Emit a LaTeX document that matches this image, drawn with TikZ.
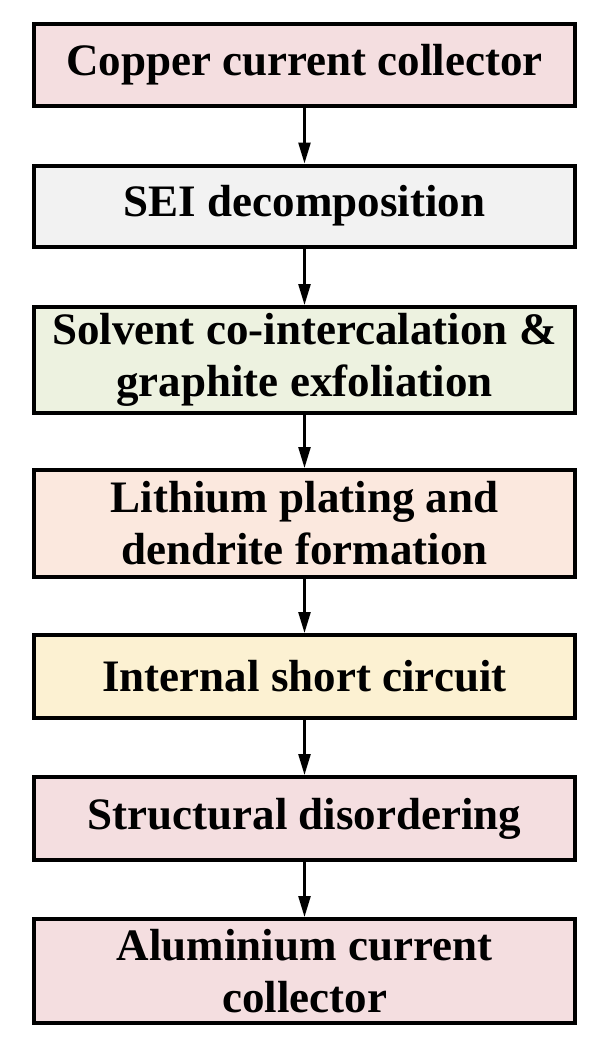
\documentclass[tikz,border=0pt]{standalone}
\usepackage{fontspec}
\setmainfont{Liberation Serif}
\usetikzlibrary{arrows.meta}
\definecolor{cpink}{HTML}{F4DEE0}
\definecolor{cgray}{HTML}{F2F2F2}
\definecolor{cgreen}{HTML}{EDF2E0}
\definecolor{cpeach}{HTML}{FBE8DE}
\definecolor{cyellow}{HTML}{FCF1D2}
\tikzset{
  flowbox/.style={draw=black, line width=4pt, rectangle, minimum width=541pt,
    align=center, inner sep=2pt,
    font=\fontsize{45}{52}\selectfont\bfseries},
  flowarrow/.style={line width=2.5pt, -{Triangle[width=12pt,length=21pt]}}
}
\begin{document}
\begin{tikzpicture}[x=1pt,y=-1pt]
\useasboundingbox[fill=white] (0,0) rectangle (604,1039);
\node[flowbox, fill=cpink,   minimum height=82pt]  (n1) at (304.5,65)    {Copper current collector};
\node[flowbox, fill=cgray,   minimum height=81pt]  (n2) at (304.5,206)   {SEI decomposition};
\node[flowbox, fill=cgreen,  minimum height=106pt] (n3) at (304.5,360)   {Solvent co-intercalation \&\\graphite exfoliation};
\node[flowbox, fill=cpeach,  minimum height=107pt] (n4) at (304.5,523.5) {Lithium plating and\\dendrite formation};
\node[flowbox, fill=cyellow, minimum height=83pt]  (n5) at (304.5,676.5) {Internal short circuit};
\node[flowbox, fill=cpink,   minimum height=83pt]  (n6) at (304.5,818.5) {Structural disordering};
\node[flowbox, fill=cpink,   minimum height=104pt] (n7) at (304.5,971)   {Aluminium current\\collector};
\draw[flowarrow] (n1.south) -- (n2.north);
\draw[flowarrow] (n2.south) -- (n3.north);
\draw[flowarrow] (n3.south) -- (n4.north);
\draw[flowarrow] (n4.south) -- (n5.north);
\draw[flowarrow] (n5.south) -- (n6.north);
\draw[flowarrow] (n6.south) -- (n7.north);
\end{tikzpicture}
\end{document}
